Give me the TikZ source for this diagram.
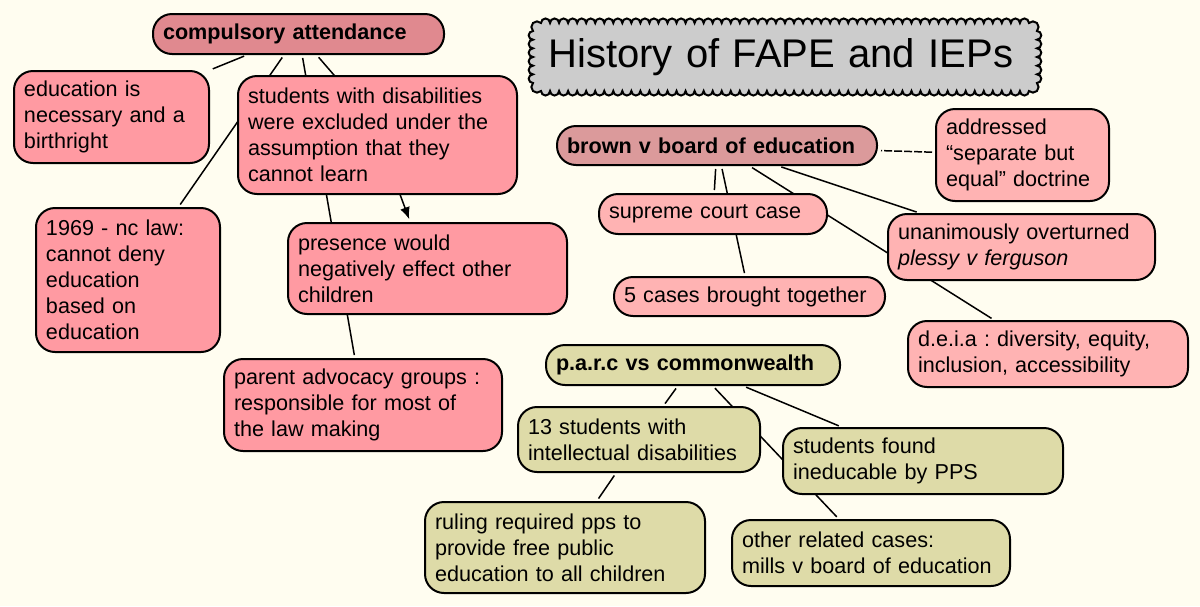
\documentclass[tikz,border=0pt]{standalone}
\usepackage{fontspec}
\setmainfont{Liberation Sans}
\usetikzlibrary{arrows.meta,backgrounds}
\usepackage{xcolor}

\definecolor{mapcream}{HTML}{FFFDF0}
\definecolor{capink}{HTML}{E0898F}
\definecolor{conceptpink}{HTML}{FF9AA2}
\definecolor{brownhead}{HTML}{DB9A9B}
\definecolor{brownpink}{HTML}{FFB3B3}
\definecolor{parcolive}{HTML}{DEDBA8}
\definecolor{titlegray}{HTML}{CCCCCC}

\tikzset{
  concept/.style={anchor=north west, draw, line width=1pt, rounded corners=9.5pt,
    inner xsep=5pt, inner ysep=1pt, align=left,
    font=\fontsize{10.8}{13}\selectfont\frenchspacing},
  head/.style={concept, font=\fontsize{10.8}{13}\selectfont\bfseries\frenchspacing},
  link/.style={line width=0.75pt, shorten <=1.5pt, shorten >=1.5pt},
  titletext/.style={anchor=north west, inner xsep=7.5pt, align=left,
    font=\fontsize{20}{24}\selectfont},
  scallop/.style={line width=1pt, fill=titlegray}
}

\begin{document}
\begin{tikzpicture}[x=0.5pt,y=-0.5pt]

  \useasboundingbox (0,0) rectangle (1200,606);

  % compulsory attendance
  \draw (152,13) node (ca) [head, fill=capink, text width=135.5pt, minimum height=20pt] {compulsory attendance};
  \draw (13,70) node (edu) [concept, fill=conceptpink, text width=87.5pt, minimum height=46pt] {education is\\necessary and a\\birthright};
  \draw (237,75) node (stud) [concept, fill=conceptpink, text width=129.5pt, minimum height=59pt] {students with disabilities\\were excluded under the\\assumption that they\\cannot learn};
  \draw (35,207) node (law) [concept, fill=conceptpink, text width=82pt, minimum height=72pt] {1969 - nc law:\\cannot deny\\education\\based on\\education};
  \draw (287,222) node (pres) [concept, fill=conceptpink, text width=129.5pt, minimum height=45.5pt] {presence would\\negatively effect other\\children};
  \draw (223,358) node (parent) [concept, fill=conceptpink, text width=129pt, minimum height=46pt] {parent advocacy groups :\\responsible for most of\\the law making};

  \draw (533,23) node (title) [titletext, text width=236.5pt, minimum height=34pt] {History of FAPE and IEPs};

  % brown v board
  \draw (556,125) node (brown) [head, fill=brownhead, text width=150pt, minimum height=19.5pt] {brown v board of education};
  \draw (935,108) node (addr) [concept, fill=brownpink, text width=76.5pt, minimum height=46pt] {addressed\\“separate but\\equal” doctrine};
  \draw (598,193) node (court) [concept, fill=brownpink, text width=104pt, minimum height=20pt] {supreme court case};
  \draw (887,213) node (unan) [concept, fill=brownpink, text width=123.5pt, minimum height=33pt] {unanimously overturned\\\textit{plessy v ferguson}};
  \draw (613,276) node (five) [concept, fill=brownpink, text width=125.5pt, minimum height=19.5pt] {5 cases brought together};
  \draw (907,320) node (deia) [concept, fill=brownpink, text width=130pt, minimum height=33pt] {d.e.i.a : diversity, equity,\\inclusion, accessibility};

  % p.a.r.c
  \draw (545,344) node (parc) [head, fill=parcolive, text width=137pt, minimum height=20pt] {p.a.r.c vs commonwealth};
  \draw (517,406) node (thirteen) [concept, fill=parcolive, text width=111pt, minimum height=32.5pt] {13 students with\\intellectual disabilities};
  \draw (782,427) node (found) [concept, fill=parcolive, text width=130pt, minimum height=33pt] {students found\\ineducable by PPS};
  \draw (424,501) node (ruling) [concept, fill=parcolive, text width=130pt, minimum height=45.5pt] {ruling required pps to\\provide free public\\education to all children};
  \draw (731,519) node (other) [concept, fill=parcolive, text width=129pt, minimum height=33pt] {other related cases:\\mills v board of education};

  \begin{scope}[on background layer]
    \fill[mapcream] (0,0) rectangle (1200,606);

    % scalloped title outline, clockwise from the top left
    \draw[scallop] (541,23)
      \foreach \i in {1,...,54} {arc[start angle=180, end angle=0, radius=2.259pt]}
      arc[start angle=135, end angle=-45, radius=2.828pt]
      \foreach \i in {1,...,6} {arc[start angle=90, end angle=-90, radius=2.1667pt]}
      arc[start angle=45, end angle=-135, radius=2.828pt]
      \foreach \i in {1,...,54} {arc[start angle=0, end angle=-180, radius=2.259pt]}
      arc[start angle=-45, end angle=-225, radius=2.828pt]
      \foreach \i in {1,...,6} {arc[start angle=-90, end angle=-270, radius=2.1667pt]}
      arc[start angle=-135, end angle=-315, radius=2.828pt]
      -- cycle;

    \coordinate (lkpres) at (372,119);

    \draw[link] (ca) -- (edu.north east);
    \draw[link] (ca) -- (law);
    \draw[link] (ca) -- (parent);
    \draw[link,-{Latex[length=6pt,width=5pt]}] (ca) -- (lkpres) -- (pres);

    \draw[link] (brown) -- (court);
    \draw[link] (brown) -- (five);
    \draw[link] (brown) -- (unan);
    \draw[link] (brown) -- (deia);
    \draw[link, dash pattern=on 4pt off 1pt] (addr) -- (brown);

    \draw[link] (parc) -- (thirteen);
    \draw[link] (parc) -- (found);
    \draw[link] (parc) -- (other);
    \draw[link] (thirteen) -- (ruling);
  \end{scope}

\end{tikzpicture}
\end{document}
